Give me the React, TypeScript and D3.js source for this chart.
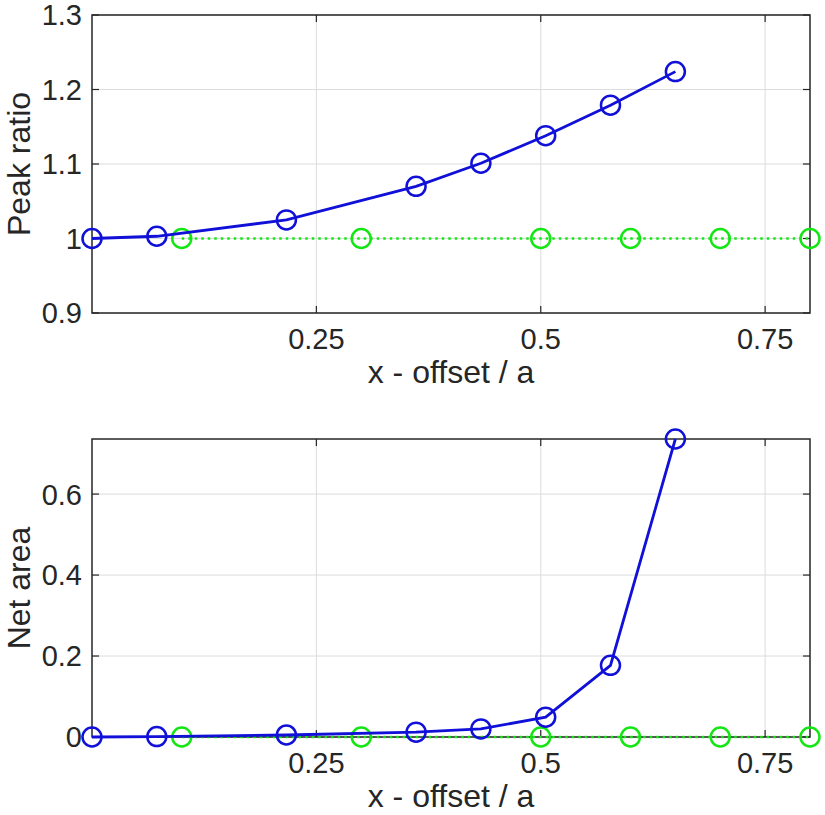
import * as d3 from 'd3';
import { useEffect, useRef } from 'react';

// offsets sampled for the two configurations
const blueX = [0, 0.0722, 0.2166, 0.3611, 0.4333, 0.5055, 0.5777, 0.65];
const greenX = [0.1, 0.3, 0.5, 0.6, 0.7, 0.8];

const bluePeak = [1.0, 1.003, 1.025, 1.07, 1.101, 1.138, 1.179, 1.224];
const greenPeak = [1, 1, 1, 1, 1, 1];

const blueArea = [0, 0.001, 0.005, 0.012, 0.02, 0.049, 0.177, 0.736];
const greenArea = [0, 0, 0, 0, 0, 0];

const xTicks = [0.25, 0.5, 0.75];
const peakTicks = [0.9, 1.0, 1.1, 1.2, 1.3];
const areaTicks = [0, 0.2, 0.4, 0.6];

const BLUE = '#1010d8';
const GREEN = '#14e614';
const AXIS = '#262626';
const GRID = '#dcdcdc';
const FONT = 'Liberation Sans, Arial, Helvetica, sans-serif';

const App = () => {
    const ref = useRef<SVGSVGElement | null>(null);

    useEffect(() => {
        const svg = d3.select(ref.current);
        svg.selectAll('*').remove();

        const left = 92;
        const right = 810;

        const drawPanel = (
            top: number,
            bottom: number,
            yDomain: [number, number],
            yTicks: number[],
            yFmt: (v: number) => string,
            yLabel: string,
            blueY: number[],
            greenY: number[]
        ) => {
            const x = d3.scaleLinear().domain([0, 0.8]).range([left, right]);
            const y = d3.scaleLinear().domain(yDomain).range([bottom, top]);
            const g = svg.append('g');

            // grid
            g.selectAll('.gx')
                .data(xTicks)
                .enter()
                .append('line')
                .attr('x1', (d) => x(d))
                .attr('x2', (d) => x(d))
                .attr('y1', top)
                .attr('y2', bottom)
                .attr('stroke', GRID)
                .attr('stroke-width', 1);
            g.selectAll('.gy')
                .data(yTicks)
                .enter()
                .append('line')
                .attr('x1', left)
                .attr('x2', right)
                .attr('y1', (d) => y(d))
                .attr('y2', (d) => y(d))
                .attr('stroke', GRID)
                .attr('stroke-width', 1);

            // inward ticks on all four sides
            const tl = 7;
            xTicks.forEach((t) => {
                g.append('line').attr('x1', x(t)).attr('x2', x(t)).attr('y1', bottom).attr('y2', bottom - tl).attr('stroke', AXIS).attr('stroke-width', 1.2);
                g.append('line').attr('x1', x(t)).attr('x2', x(t)).attr('y1', top).attr('y2', top + tl).attr('stroke', AXIS).attr('stroke-width', 1.2);
            });
            yTicks.forEach((t) => {
                g.append('line').attr('x1', left).attr('x2', left + tl).attr('y1', y(t)).attr('y2', y(t)).attr('stroke', AXIS).attr('stroke-width', 1.2);
                g.append('line').attr('x1', right).attr('x2', right - tl).attr('y1', y(t)).attr('y2', y(t)).attr('stroke', AXIS).attr('stroke-width', 1.2);
            });

            // box
            g.append('rect')
                .attr('x', left)
                .attr('y', top)
                .attr('width', right - left)
                .attr('height', bottom - top)
                .attr('fill', 'none')
                .attr('stroke', AXIS)
                .attr('stroke-width', 1.5);

            // tick labels
            g.selectAll('.xt')
                .data(xTicks)
                .enter()
                .append('text')
                .attr('x', (d) => x(d))
                .attr('y', bottom + 36)
                .attr('text-anchor', 'middle')
                .style('font-size', '29px')
                .style('font-family', FONT)
                .style('fill', AXIS)
                .text((d) => String(d));
            g.selectAll('.yt')
                .data(yTicks)
                .enter()
                .append('text')
                .attr('x', left - 10)
                .attr('y', (d) => y(d))
                .attr('dy', '0.36em')
                .attr('text-anchor', 'end')
                .style('font-size', '29px')
                .style('font-family', FONT)
                .style('fill', AXIS)
                .text((d) => yFmt(d));

            // axis labels
            g.append('text')
                .attr('x', (left + right) / 2)
                .attr('y', bottom + 70)
                .attr('text-anchor', 'middle')
                .style('font-size', '32px')
                .style('font-family', FONT)
                .style('fill', AXIS)
                .text('x - offset / a');
            g.append('text')
                .attr('transform', `translate(30, ${(top + bottom) / 2}) rotate(-90)`)
                .attr('text-anchor', 'middle')
                .style('font-size', '32px')
                .style('font-family', FONT)
                .style('fill', AXIS)
                .text(yLabel);

            const line = d3.line<[number, number]>()
                .x((d) => x(d[0]))
                .y((d) => y(d[1]));

            // green series (dotted) under the blue one
            const gData = greenX.map((v, i) => [v, greenY[i]] as [number, number]);
            g.append('path')
                .attr('d', line(gData))
                .attr('fill', 'none')
                .attr('stroke', GREEN)
                .attr('stroke-width', 2.5)
                .attr('stroke-dasharray', '2.5,4');
            g.selectAll('.gm')
                .data(gData)
                .enter()
                .append('circle')
                .attr('cx', (d) => x(d[0]))
                .attr('cy', (d) => y(d[1]))
                .attr('r', 9.5)
                .attr('fill', 'none')
                .attr('stroke', GREEN)
                .attr('stroke-width', 2.5);

            const bData = blueX.map((v, i) => [v, blueY[i]] as [number, number]);
            g.append('path')
                .attr('d', line(bData))
                .attr('fill', 'none')
                .attr('stroke', BLUE)
                .attr('stroke-width', 2.8);
            g.selectAll('.bm')
                .data(bData)
                .enter()
                .append('circle')
                .attr('cx', (d) => x(d[0]))
                .attr('cy', (d) => y(d[1]))
                .attr('r', 9.5)
                .attr('fill', 'none')
                .attr('stroke', BLUE)
                .attr('stroke-width', 2.5);
        };

        drawPanel(15, 313, [0.9, 1.3], peakTicks, (v) => d3.format('~g')(+v.toFixed(2)), 'Peak ratio', bluePeak, greenPeak);
        drawPanel(439, 737, [0, d3.max(blueArea) as number], areaTicks, (v) => String(v), 'Net area', blueArea, greenArea);
    }, []);

    return (
        <svg
            ref={ref}
            width={825}
            height={815}
            style={{ position: 'absolute', left: 0, top: 0, background: '#fff' }}
        />
    );
};

export default App;
